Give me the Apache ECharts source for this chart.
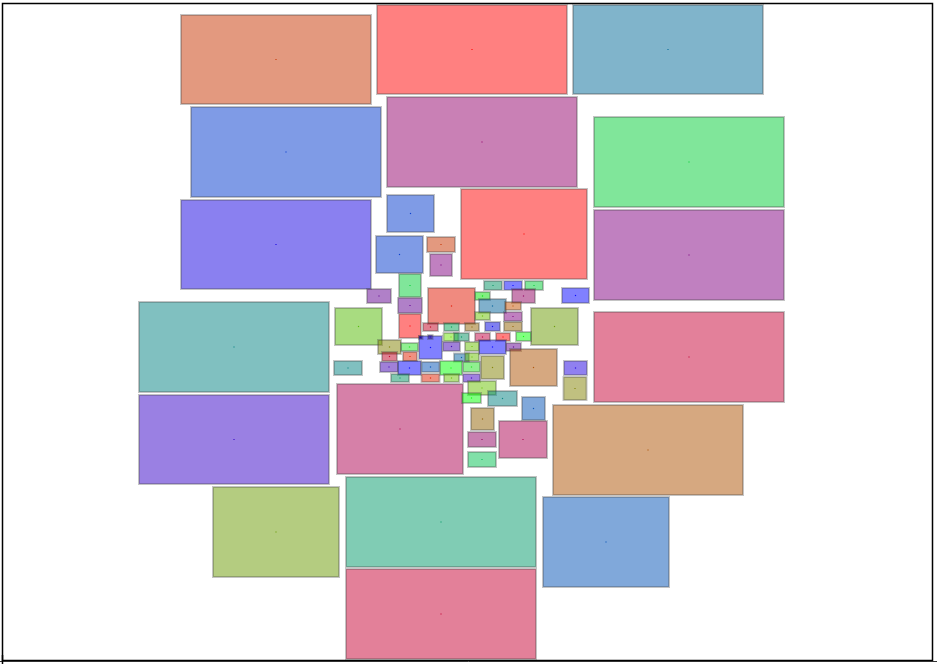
<!DOCTYPE html>
<html>
<head>
<meta charset="utf-8">
<script src="https://cdn.jsdelivr.net/npm/echarts@6/dist/echarts.min.js"></script>
<style>
html,body{margin:0;padding:0;background:#fff;}
#chart{width:937px;height:664px;}
</style>
</head>
<body>
<div id="chart"></div>
<script>
// Rectangle data: centre x, centre y, width, height (in axis units) and colour
const centerX = [276,472,668,286,482,689,276,524,689,234,689,234,400,648,276,441,606,441,
  410.5,399.5,441,441,410,379,410,451.5,410,358.5,575.5,482.5,493,513,534,523.5,492.5,513,513,513,482.5,492.5,
  554.5,482.5,503,523.5,492.5,513.5,492.5,533.5,575.5,575,
  430.5,451.5,472,451,461.5,389.5,409.5,430.5,420.8,430.3,451.5,472,389.5,410,461.5,472,
  389,409.5,430.5,451,471.5,400,430.5,451.5,471.5,482,471.5,502.5,533.5,482.5,523,482,482,348];
const centerY = [59.5,49.5,49.5,152,142,162,244.5,234,255,347,357,439.5,429,450,532,522,542,614,
  213.5,254.5,244.5,265,285.5,296,305.5,306,326,326.5,295.5,296,285.5,285.5,285.5,296,306,306,316.5,326.5,316,326.5,
  326.5,337,337,336.5,347,347,367.5,367.5,368,388.5,
  327,327,327,337,337,347,347,347.5,337.5,337,346.5,346.5,356.5,356.5,357.5,357,
  367,368,367,368,367,378,378,378,378,388,398,398.5,408.5,419,439.5,439.5,459.5,368];
const widths = [190,190,190,190,190,190,190,126,190,190,190,190,126,190,126,190,126,190,
  47,47,28,22,22,24,24,47,22,47,27,15,18,18,18,23,27,16,18,18,15,15,
  47,15,14,15,27,15,23,47,23,23,
  15,15,14,15,15,23,17,23,3.5,4.5,17,14,15,14,15,14,
  18,23,18,22,17,18,18,15,17,28,19,29,23,23,48,28,28,28];
const heights = [89,89,89,90,90,90,89,90,90,90,90,89,90,90,90,90,90,90,
  37,37,15,22,23,14,15,36,24,37,15,8,9,9,9,14,14,8,9,9,8,9,
  37,8,8,9,14,8,23,37,14,23,
  8,8,8,8,8,14,8,23,3,4,9,9,9,9,8,8,
  10,14,10,14,10,8,8,8,8,14,10,15,23,22,37,15,15,14];
const colors = ['#e3997e','#ff8080','#80b4cb','#7f9be6','#c980b5','#80e69a','#8a80f0','#ff8080','#c080c0','#80c0c0','#e3809a','#9a80e3','#d680a8','#d6a880','#b4cc80','#80ccb4','#80a8da','#e38099',
  '#7f9be6','#7f9be6','#e3997e','#c080c0','#80e69a','#b080c8','#b080c8','#f08a78','#ff8080','#a8dc80','#8080ff','#80f080','#80c8b0','#8080ff','#80e69a','#c880b0','#80b0cc','#e0a880','#c080c0','#c8b080','#b4e080','#8080f0',
  '#b4cc80','#e080a0','#ff8080','#80ff80','#8080ff','#b080c8','#c0c080','#d6a880','#9080f0','#c0c080',
  '#e08090','#80d0a8','#c8b080','#b4f080','#80c8b0','#c0c080','#90f090','#8080ff','#9080d0','#9080d0','#a080d8','#b4e080','#e08090','#f09080','#80b0d0','#b4e080',
  '#a080d8','#8080ff','#80a8da','#80ff80','#90f090','#80c8b0','#f09080','#b4e080','#a080e0','#b4e080','#80ff80','#80c0c0','#80a8da','#c8b080','#d680a8','#c880b0','#80e0a8','#80c0c0'];

function baseOf(hex){
  const r = parseInt(hex.slice(1,3),16), g = parseInt(hex.slice(3,5),16), b = parseInt(hex.slice(5,7),16);
  return [r,g,b].map(v => Math.max(0, Math.min(255, 2*v-255)));
}

const data = centerX.map((x,i) => [x, centerY[i], widths[i], heights[i], i]);

const chart = echarts.init(document.getElementById('chart'));
chart.setOption({
  animation: false,
  backgroundColor: '#fff',
  grid: {left: 0, right: 0, top: 0, bottom: 0},
  xAxis: {type: 'value', min: 0, max: 937, show: false},
  yAxis: {type: 'value', min: 0, max: 664, inverse: true, show: false},
  graphic: [
    {type: 'rect', shape: {x: 2.5, y: 3.5, width: 930, height: 657}, style: {fill: 'none', stroke: '#000', lineWidth: 1.5}, z: 100},
    {type: 'line', shape: {x1: 0, y1: 661.5, x2: 937, y2: 661.5}, style: {stroke: '#333', lineWidth: 1}, z: 100},
    {type: 'line', shape: {x1: 2.5, y1: 655, x2: 2.5, y2: 664}, style: {stroke: '#000', lineWidth: 1.5}, z: 100}
  ],
  series: [{
    type: 'custom',
    data: data,
    renderItem: function(params, api){
      const c = api.coord([api.value(0), api.value(1)]);
      const s = api.size([api.value(2), api.value(3)]);
      const w = Math.abs(s[0]), h = Math.abs(s[1]);
      const b = baseOf(colors[api.value(4)]);
      return {
        type: 'group',
        children: [
          {type: 'rect', shape: {x: c[0]-w/2, y: c[1]-h/2, width: w, height: h},
           style: {fill: 'rgba(' + b.join(',') + ',0.5)', stroke: 'rgba(60,60,60,0.3)', lineWidth: 2}},
          {type: 'rect', shape: {x: c[0]-0.6, y: c[1]-0.6, width: 1.2, height: 1.2},
           style: {fill: 'rgba(' + b.join(',') + ',0.9)'}}
        ]
      };
    }
  }]
});
</script>
</body>
</html>
